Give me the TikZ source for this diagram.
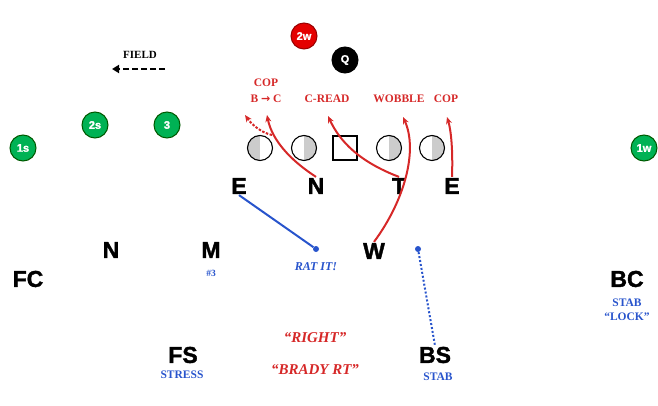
\documentclass[tikz,border=0pt]{standalone}
\usepackage{fontspec}
\setmainfont{Liberation Serif}
\setsansfont{Liberation Sans}
\newfontfamily\heavyfont[BoldFeatures={FakeBold=1.6}]{Liberation Sans}
\newfontfamily\arrowfont{DejaVu Sans}
\usetikzlibrary{arrows.meta}
\definecolor{callred}{RGB}{214,40,40}
\definecolor{callblue}{RGB}{40,84,204}
\definecolor{wrgreen}{RGB}{0,178,84}
\definecolor{qbred}{RGB}{228,0,0}
\tikzset{
	def/.style={font=\heavyfont\bfseries\fontsize{23}{23}\selectfont, inner sep=1pt},
	rec/.style={circle, draw=green!35!black, line width=1pt, fill=wrgreen, minimum size=26pt, inner sep=0pt, text=white, font=\heavyfont\bfseries\fontsize{11}{11}\selectfont},
	back/.style={circle, draw=black, line width=1pt, minimum size=26pt, inner sep=0pt, text=white, font=\heavyfont\bfseries\fontsize{11}{11}\selectfont},
	oleft/.style={circle, draw, line width=1.1pt, minimum size=25pt, inner sep=0pt, path picture={\fill[gray!40] (path picture bounding box.south west) rectangle (path picture bounding box.north);}},
	oright/.style={circle, draw, line width=1.1pt, minimum size=25pt, inner sep=0pt, path picture={\fill[gray!40] (path picture bounding box.north) rectangle (path picture bounding box.south east);}},
	redcall/.style={text=callred, font=\bfseries\fontsize{11.5}{13}\selectfont, inner sep=1pt},
	bluecall/.style={text=callblue, font=\bfseries\fontsize{11.5}{13}\selectfont, inner sep=1pt},
	route/.style={draw=callred, line width=2pt, -{Stealth[length=7pt,width=6pt]}},
}
\begin{document}
\begin{tikzpicture}[x=1pt,y=-1pt]
	\useasboundingbox (0,0) rectangle (658,406);
	\node[back, fill=qbred, draw=red!60!black] (TW) at (304,36) {2w};
	\node[back, fill=black] (Q) at (345,60) {Q};
	\node[rec] (X) at (23,148) {1s};
	\node[rec] (S) at (95,125) {2s};
	\node[rec] (Y) at (167,125) {3};
	\node[rec] (Z) at (644,148) {1w};
	\node[font=\bfseries\fontsize{11}{12}\selectfont] (field) at (140,55) {FIELD};
	\coordinate (fieldA) at (165,69);
	\coordinate (fieldB) at (112,69);
	
	\node[oleft] (LT) at (260,148) {};
	\node[oright] (LG) at (304,148) {};
	\node[draw, line width=1.1pt, minimum size=24pt, inner sep=0pt] (OC) at (345,148) {};
	\node[oright] (RG) at (389,148) {};
	\node[oright] (RT) at (432,148) {};
	
	\node[def] (E1) at (239,186) {E};
	\node[def] (N1) at (316,186) {N};
	\node[def] (T1) at (399,186) {T};
	\node[def] (E2) at (452,186) {E};
	\node[def] (N2) at (111,250) {N};
	\node[def] (M) at (211,250) {M};
	\node[def] (W) at (374,251) {W};
	\node[def] (FC) at (28,279) {FC};
	\node[def] (BC) at (627,279) {BC};
	\node[def] (FS) at (183,355) {FS};
	\node[def] (BS) at (435,355) {BS};
	
	\node[redcall] (cop) at (266,83) {COP};
	\node[redcall] (btoc) at (266,99) {B {\arrowfont\bfseries\fontsize{11}{13}\selectfont →} C};
	\node[redcall] (cread) at (327,99) {C-READ};
	\node[redcall] (wobble) at (399,99) {WOBBLE};
	\node[redcall] (copE) at (446,99) {COP};
	\node[redcall, font=\bfseries\itshape\fontsize{15}{17}\selectfont] (right) at (315,338) {“RIGHT”};
	\node[redcall, font=\bfseries\itshape\fontsize{15}{17}\selectfont] (brady) at (315,370) {“BRADY RT”};
	
	\node[bluecall, font=\bfseries\fontsize{9.5}{11}\selectfont] (three) at (211,273) {\#3};
	\node[bluecall, font=\bfseries\itshape\fontsize{12}{13}\selectfont] (rat) at (316,267) {RAT IT!};
	\node[bluecall] (stress) at (182,375) {STRESS};
	\node[bluecall] (stabB) at (438,377) {STAB};
	\node[bluecall] (stabC) at (627,303) {STAB};
	\node[bluecall] (lock) at (627,317) {“LOCK”};
	\node[circle, fill=callblue, minimum size=6pt, inner sep=0pt] (ratdot) at (316,249) {};
	\node[circle, fill=callblue, minimum size=6pt, inner sep=0pt] (stabdot) at (418,249) {};
	
	\coordinate (nEnd) at (267,115);
	\coordinate (dotA) at (272,135);
	\coordinate (dotB) at (245,115);
	\coordinate (tEnd) at (328,116);
	\coordinate (wEnd) at (403,117);
	\coordinate (eEnd) at (447,117);
	
	\draw[line width=2.6pt, dash pattern=on 6pt off 3pt, -{Triangle[length=7pt,width=8pt]}] (fieldA) -- (fieldB);
	\draw[route, dash pattern=on 2.5pt off 1.5pt] (dotA) .. controls (262,133) and (252,125) .. (dotB);
	\draw[route] (N1.north) .. controls (290,160) and (272,140) .. (nEnd);
	\draw[route] (T1.north) .. controls (360,162) and (340,142) .. (tEnd);
	\draw[route] (W.north) .. controls (405,200) and (418,150) .. (wEnd);
	\draw[route] (E2.north) .. controls (453,150) and (451,130) .. (eEnd);
	\draw[callblue, line width=2pt] (E1.south) -- (ratdot);
	\draw[callblue, line width=2pt, dotted] (stabdot) -- (BS.north);
	\end{tikzpicture}
\end{document}
